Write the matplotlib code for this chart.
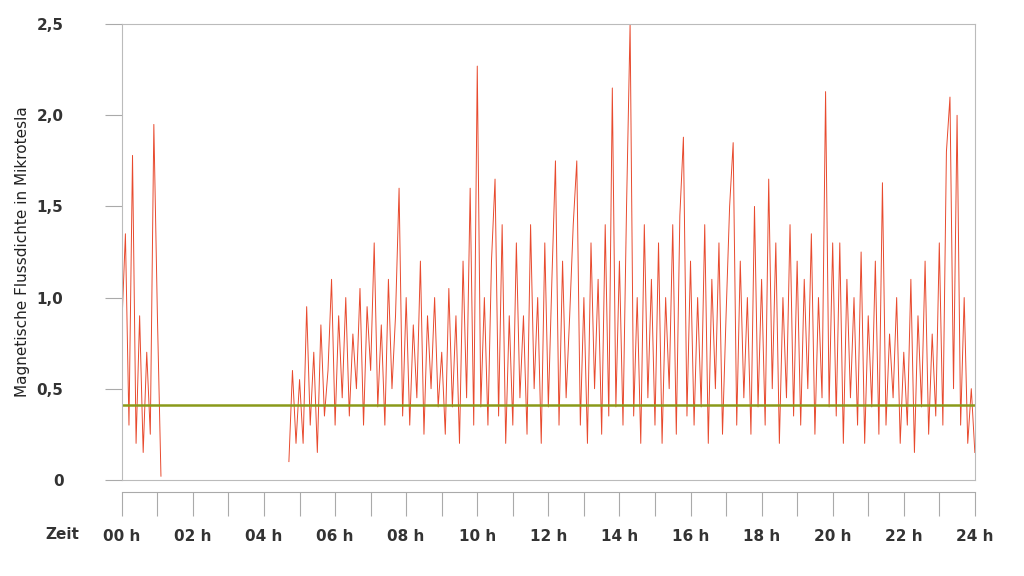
import numpy as np
import matplotlib.pyplot as plt

# segment start (hours) and values every 0.1 h
seg1_start = 0.0
seg1 = [0.85, 1.35, 0.3, 1.78, 0.2, 0.9, 0.15, 0.7, 0.25, 1.95, 0.9, 0.02]
seg2_start = 4.7
seg2 = [0.1, 0.6, 0.2,
        0.55, 0.2, 0.95, 0.3, 0.7, 0.15, 0.85, 0.35, 0.6, 1.1,
        0.3, 0.9, 0.45, 1.0, 0.35, 0.8, 0.5, 1.05, 0.3, 0.95,
        0.6, 1.3, 0.4, 0.85, 0.3, 1.1, 0.5, 0.9, 1.6, 0.35,
        1.0, 0.3, 0.85, 0.45, 1.2, 0.25, 0.9, 0.5, 1.0, 0.4,
        0.7, 0.25, 1.05, 0.4, 0.9, 0.2, 1.2, 0.45, 1.6, 0.3,
        2.27, 0.4, 1.0, 0.3, 1.2, 1.65, 0.35, 1.4, 0.2, 0.9,
        0.3, 1.3, 0.45, 0.9, 0.25, 1.4, 0.5, 1.0, 0.2, 1.3,
        0.4, 1.1, 1.75, 0.3, 1.2, 0.45, 0.9, 1.4, 1.75, 0.3,
        1.0, 0.2, 1.3, 0.5, 1.1, 0.25, 1.4, 0.35, 2.15, 0.4,
        1.2, 0.3, 1.5, 2.5, 0.35, 1.0, 0.2, 1.4, 0.45, 1.1,
        0.3, 1.3, 0.2, 1.0, 0.5, 1.4, 0.25, 1.45, 1.88, 0.35,
        1.2, 0.3, 1.0, 0.4, 1.4, 0.2, 1.1, 0.5, 1.3, 0.25,
        0.9, 1.5, 1.85, 0.3, 1.2, 0.45, 1.0, 0.25, 1.5, 0.4,
        1.1, 0.3, 1.65, 0.5, 1.3, 0.2, 1.0, 0.45, 1.4, 0.35,
        1.2, 0.3, 1.1, 0.5, 1.35, 0.25, 1.0, 0.45, 2.13, 0.4,
        1.3, 0.35, 1.3, 0.2, 1.1, 0.45, 1.0, 0.3, 1.25, 0.2,
        0.9, 0.4, 1.2, 0.25, 1.63, 0.3, 0.8, 0.45, 1.0, 0.2,
        0.7, 0.3, 1.1, 0.15, 0.9, 0.4, 1.2, 0.25, 0.8, 0.35,
        1.3, 0.3, 1.8, 2.1, 0.5, 2.0, 0.3, 1.0, 0.2, 0.5,
        0.15]
mean_value = 0.41
y_ticks = [0, 0.5, 1.0, 1.5, 2.0, 2.5]
y_labels = ['0', '0,5', '1,0', '1,5', '2,0', '2,5']
hour_labels = [f'{h:02d} h' for h in range(0, 25, 2)]

t1 = seg1_start + np.arange(len(seg1)) * 0.1
t2 = seg2_start + np.arange(len(seg2)) * 0.1

fig = plt.figure(figsize=(10.24, 5.76), dpi=100)
ax = fig.add_axes([0.119, 0.167, 0.833, 0.791])
ax.plot(t1, seg1, color='#e84a2e', lw=0.7)
ax.plot(t2, seg2, color='#e84a2e', lw=0.7)
ax.axhline(mean_value, color='#8a9a1a', lw=1.8)
ax.set_xlim(0, 24)
ax.set_ylim(0, 2.5)
ax.set_xticks([])
ax.set_yticks(y_ticks)
ax.set_yticklabels(y_labels, fontsize=11, fontweight='bold', color='#333333')
ax.tick_params(axis='y', length=12, color='#aaaaaa', pad=30)
for s in ax.spines.values():
    s.set_color('#bbbbbb')
ax.set_ylabel('Magnetische Flussdichte in Mikrotesla', fontsize=11, color='#222222', labelpad=8)
ax.yaxis.set_label_coords(-0.108, 0.5)

# lower time strip
tx = fig.add_axes([0.119, 0.115, 0.833, 0.03])
tx.set_xlim(0, 24)
tx.set_yticks([])
for k in ['left', 'right', 'bottom']:
    tx.spines[k].set_visible(False)
tx.spines['top'].set_color('#aaaaaa')
tx.set_xticks(range(25), minor=False)
tx.set_xticklabels([hour_labels[h // 2] if h % 2 == 0 else '' for h in range(25)],
                   fontsize=11, fontweight='bold', color='#333333')
tx.tick_params(axis='x', direction='in', length=17, color='#aaaaaa', pad=14,
               top=True, bottom=False)
tx.patch.set_alpha(0)
fig.text(0.044, 0.072, 'Zeit', fontsize=11, fontweight='bold', color='#333333', va='center')

fig.savefig('out.png', dpi=100)
